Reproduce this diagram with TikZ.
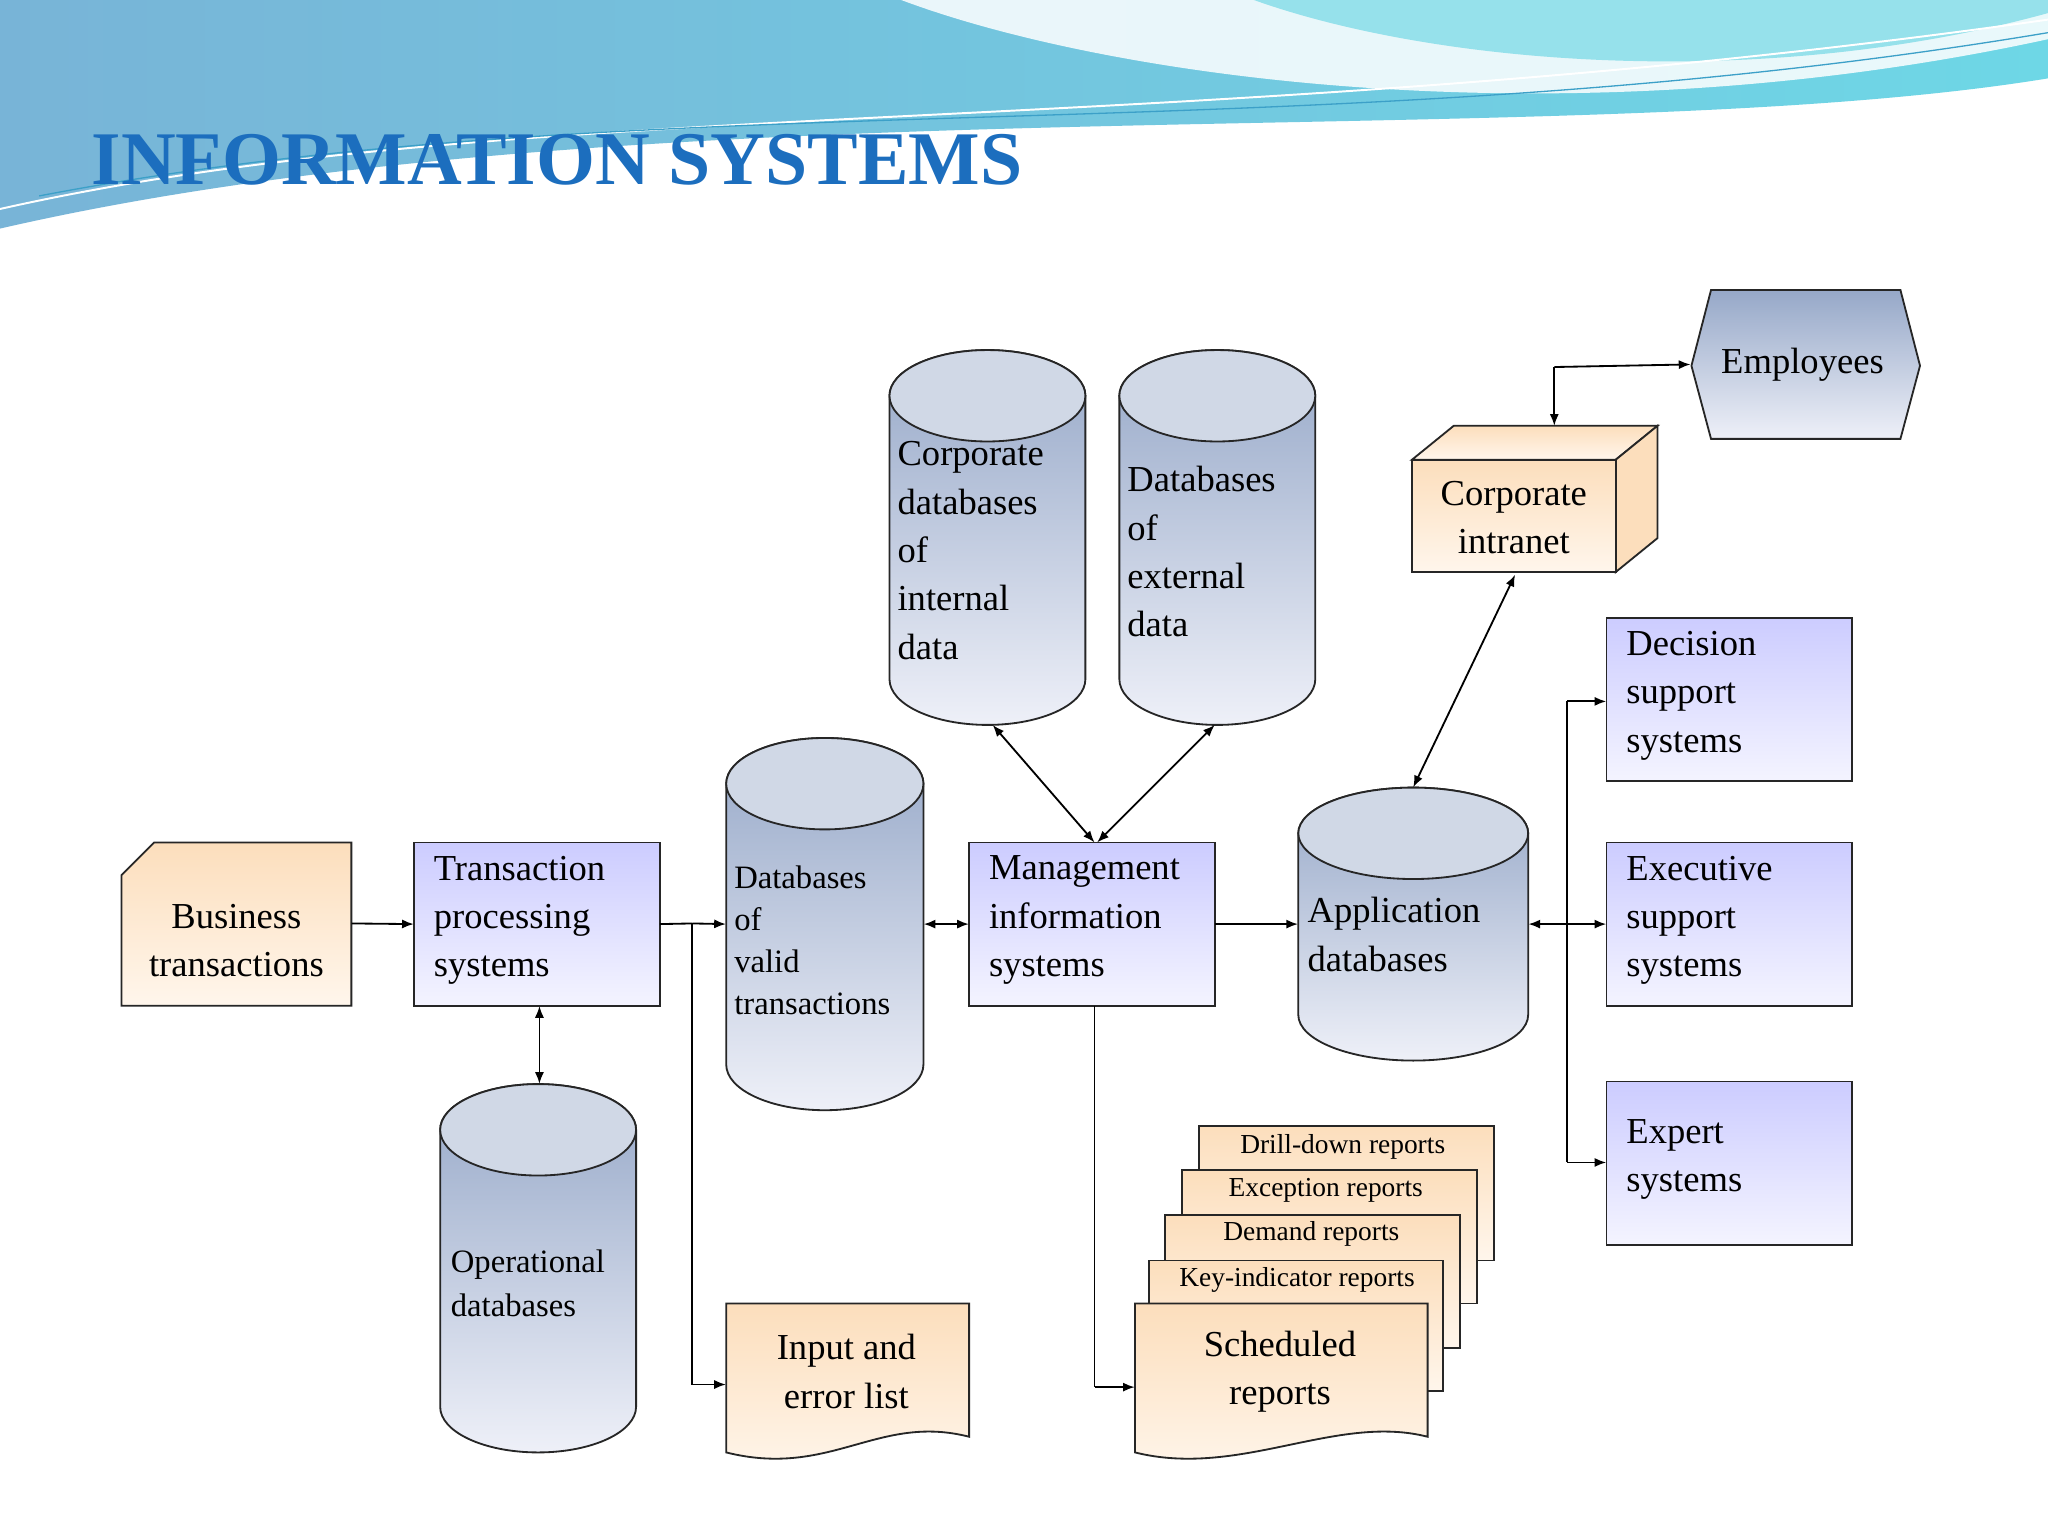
\documentclass[tikz,border=0pt]{standalone}
\usepackage{fontspec}
\setmainfont{Liberation Serif}
\usetikzlibrary{arrows.meta,calc}
\definecolor{peach}{RGB}{252,222,188}
\definecolor{peachl}{RGB}{255,246,236}
\definecolor{lav}{RGB}{204,204,255}
\definecolor{lavl}{RGB}{244,244,255}
\definecolor{cyld}{RGB}{150,168,200}
\definecolor{cyll}{RGB}{238,240,248}
\definecolor{titleblue}{RGB}{28,110,190}
\definecolor{hdA}{RGB}{120,180,215}
\definecolor{hdB}{RGB}{110,215,230}
\definecolor{hdC}{RGB}{150,225,235}
\definecolor{hdD}{RGB}{60,160,200}
\tikzset{
  ln/.style={draw=black!85,line width=1.4pt},
  pch/.style={ln,top color=peach,bottom color=peachl},
  lv/.style={ln,top color=lav,bottom color=lavl},
  cylb/.style={ln,top color=cyld,bottom color=cyll},
  lab/.style={anchor=north west,align=left,inner sep=0pt,font=\fontsize{28}{37}\selectfont},
  sml/.style={anchor=center,inner sep=0pt,font=\fontsize{21}{24}\selectfont},
  arr/.style={line width=1.4pt,-{Latex[length=9pt,width=7pt]}},
  darr/.style={line width=1.4pt,{Latex[length=9pt,width=7pt]}-{Latex[length=9pt,width=7pt]}},
  ln2/.style={line width=1.4pt},
  hit/.style={inner sep=0pt,draw=none},
}
\newcommand{\mycyl}[5]{%
  \path[cylb] (#2,{#3+35}) -- (#2,{#5-35}) arc[start angle=180,end angle=360,x radius={(#4-#2)/2*1pt},y radius=35pt]
     -- (#4,{#3+35}) arc[start angle=0,end angle=180,x radius={(#4-#2)/2*1pt},y radius=35pt] -- cycle;
  \path[ln,fill=cyld!45!white] ({(#2+#4)/2},{#3+35}) ellipse[x radius={(#4-#2)/2*1pt},y radius=35pt];
  \node[hit,minimum width={(#4-#2)*1pt},minimum height={(#5-#3)*1pt}] (#1) at ({(#2+#4)/2},{(#3+#5)/2}) {};
}
\newcommand{\mybox}[6]{%
  \path[#6] (#2,#3) rectangle (#4,#5);
  \node[hit,minimum width={(#4-#2)*1pt},minimum height={(#5-#3)*1pt}] (#1) at ({(#2+#4)/2},{(#3+#5)/2}) {};
}
\newcommand{\mydoc}[5]{%
  \path[pch] (#2,#3) -- (#4,#3) -- (#4,{#5-22}) .. controls ({#4-70},{#5-40}) and ({#2+80},{#5+10}) .. (#2,{#5-10}) -- cycle;
  \node[hit,minimum width={(#4-#2)*1pt},minimum height={(#5-#3)*1pt}] (#1) at ({(#2+#4)/2},{(#3+#5)/2}) {};
}
\begin{document}
\begin{tikzpicture}[x=1pt,y=-1pt]
\useasboundingbox (0,0) rectangle (1568,1176);
\fill[white] (0,0) rectangle (1568,1176);
% header
\shade[left color=hdA,right color=hdB]
  (0,0) -- (1568,0) -- (1568,60) .. controls (1200,120) and (500,60) .. (0,175) -- cycle;
\fill[white,opacity=0.85] (690,0) .. controls (850,60) and (1200,110) .. (1568,30) -- (1568,0) -- cycle;
\fill[hdC] (960,0) .. controls (1100,50) and (1350,70) .. (1568,10) -- (1568,0) -- cycle;
\draw[white,line width=1.5pt] (0,160) .. controls (400,70) and (900,110) .. (1568,15);
\draw[hdD,line width=1pt] (30,150) .. controls (500,60) and (1000,120) .. (1568,25);
\node[anchor=west,inner sep=0pt,text=titleblue,font=\bfseries\fontsize{58}{60}\selectfont] (title) at (70,122) {INFORMATION SYSTEMS};

% Business transactions
\path[pch] (93,670) -- (118,645) -- (269,645) -- (269,770) -- (93,770) -- cycle;
\node[hit,minimum width=176pt,minimum height=125pt] (bt) at (181,707) {};
\node[lab,anchor=center,align=center] at (181,720) {Business\\transactions};

\mybox{tps}{317}{645}{505}{770}{lv}
\node[lab] at (332,655) {Transaction\\processing\\systems};

\mycyl{opdb}{337}{830}{487}{1112}
\node[lab,font=\fontsize{25}{33}\selectfont] at (345,957) {Operational\\databases};

\mycyl{dvt}{556}{565}{707}{850}
\node[lab,font=\fontsize{25}{32}\selectfont] at (562,663) {Databases\\of\\valid\\transactions};

\mydoc{iel}{556}{998}{742}{1122}
\node[lab,anchor=center,align=center] at (648,1050) {Input and\\error list};

\mybox{mis}{742}{645}{930}{770}{lv}
\node[lab] at (757,655) {Management\\information\\systems};

\mycyl{cdb}{681}{268}{831}{555}
\node[lab] at (687,338) {Corporate\\databases\\of\\internal\\data};

\mycyl{edb}{857}{268}{1007}{555}
\node[lab] at (863,357) {Databases\\of\\external\\data};

\mycyl{adb}{994}{603}{1170}{812}
\node[lab] at (1001,687) {Application\\databases};

% Corporate intranet
\path[pch] (1081,352) -- (1113,326) -- (1269,326) -- (1237,352) -- cycle;
\path[ln,fill=peach] (1237,352) -- (1269,326) -- (1269,412) -- (1237,438) -- cycle;
\mybox{ci}{1081}{352}{1237}{438}{pch}
\node[lab,anchor=center,align=center] at (1159,396) {Corporate\\intranet};

% Employees
\path[cylb] (1310,222) -- (1455,222) -- (1470,280) -- (1455,336) -- (1310,336) -- (1295,280) -- cycle;
\node[hit,minimum width=175pt,minimum height=114pt] (emp) at (1382,279) {};
\node[lab,anchor=center] at (1380,279) {Employees};

\mybox{dss}{1230}{473}{1418}{598}{lv}
\node[lab] at (1245,483) {Decision\\support\\systems};
\mybox{ess}{1230}{645}{1418}{770}{lv}
\node[lab] at (1245,655) {Executive\\support\\systems};
\mybox{exs}{1230}{828}{1418}{953}{lv}
\node[lab] at (1245,857) {Expert\\systems};

% report stack
\path[pch] (918,862) rectangle (1144,965);
\node[sml] (r1) at (1028,878) {Drill-down reports};
\path[pch] (905,896) rectangle (1131,998);
\node[sml] (r2) at (1015,911) {Exception reports};
\path[pch] (892,930) rectangle (1118,1032);
\node[sml] (r3) at (1004,945) {Demand reports};
\path[pch] (880,965) rectangle (1105,1065);
\node[sml] (r4) at (993,980) {Key-indicator reports};
\mydoc{sr}{869}{998}{1093}{1122}
\node[lab,anchor=center,align=center] at (980,1050) {Scheduled\\reports};

% connectors
\draw[arr] (bt.east) -- (tps.west);
\coordinate (j1) at (530,707);
\draw[ln2] (tps.east) -- (j1);
\draw[arr] (j1) -- (dvt.west);
\coordinate (j2) at (530,1060);
\draw[ln2] (j1) -- (j2);
\draw[arr] (j2) -- (iel.west |- j2);
\draw[darr] (tps.south -| 413,0) -- (opdb.north -| 413,0);
\draw[darr] (dvt.east) -- (mis.west);
\draw[arr] (mis.east) -- (adb.west);
\draw[darr] (760,555) -- (838,645);
\draw[darr] (930,555) -- (840,645);
\coordinate (j3) at (838,1062);
\draw[ln2] (838,770) -- (j3);
\draw[arr] (j3) -- (sr.west |- j3);
\draw[darr] (adb.north -| 1082,0) -- (1160,440);
\coordinate (bus1) at (1200,537);
\coordinate (bus2) at (1200,890);
\draw[ln2] (bus1) -- (bus2);
\draw[arr] (bus1) -- (dss.west |- bus1);
\draw[arr] (bus2) -- (exs.west |- bus2);
\draw[darr] (adb.east) -- (ess.west);
\coordinate (j4) at (1190,281);
\draw[arr] (j4) -- (emp.west);
\draw[arr] (j4) -- (1190,326);
\end{tikzpicture}
\end{document}
